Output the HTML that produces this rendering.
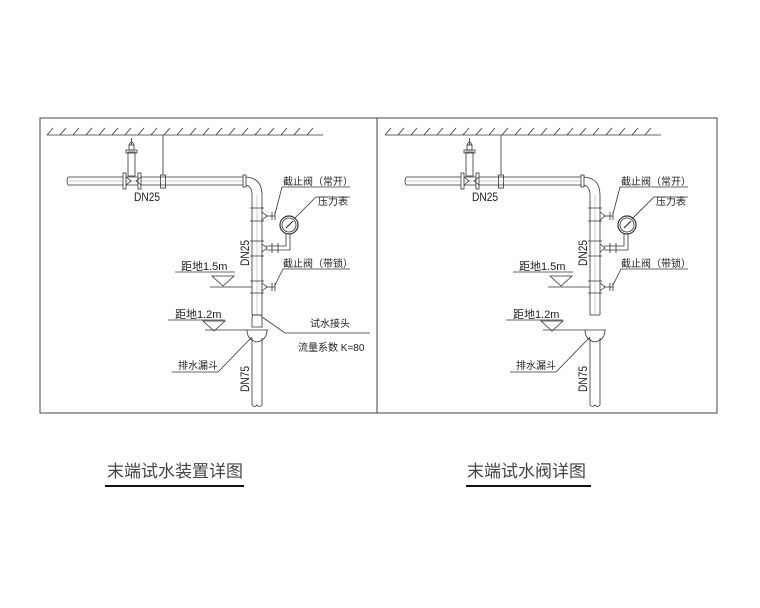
<!DOCTYPE html>
<html><head><meta charset="utf-8"><style>
html,body{margin:0;padding:0;background:#fff;}
svg{display:block;}
text{font-family:"Liberation Sans","Noto Sans CJK SC",sans-serif;fill:#222;}
</style></head><body>
<svg width="760" height="608" viewBox="0 0 760 608" xmlns="http://www.w3.org/2000/svg">
<defs>
<g id="panel" stroke="#333" stroke-width="0.8" fill="none">
  <line x1="47" y1="135" x2="323" y2="135"/>
  <path d="M47 135l6-7M60 135l6-7M73 135l6-7M86 135l6-7M99 135l6-7M112 135l6-7M125 135l6-7M138 135l6-7M151 135l6-7M164 135l6-7M177 135l6-7M190 135l6-7M203 135l6-7M216 135l6-7M229 135l6-7M242 135l6-7M255 135l6-7M268 135l6-7M281 135l6-7M294 135l6-7M307 135l6-7"/>
  <line x1="163" y1="135" x2="163" y2="175"/>
  <rect x="160.5" y="175" width="5" height="13" fill="#fff"/>
  <line x1="68" y1="177" x2="244" y2="177"/>
  <line x1="68" y1="185" x2="244" y2="185"/>
  <line x1="68" y1="181" x2="244" y2="181" stroke="#999" stroke-width="0.5"/>
  <path d="M68 177q-2 4 0 8"/>
  <path d="M244 177q18 0 18 18M244 185q8 0 8 10"/>
  <rect x="243" y="175" width="3" height="12" fill="#fff"/>
  <rect x="123" y="173" width="3" height="16" fill="#fff"/>
  <rect x="138" y="173" width="3" height="16" fill="#fff"/>
  <path d="M126 177l5 4 l-5 4M141 177l-5 4 l5 4"/>
  <rect x="128" y="152" width="7" height="24"/>
  <rect x="126" y="150" width="11" height="3"/>
  <rect x="129" y="145" width="5" height="5"/>
  <path d="M129 145q2.5-6 5 0"/>
  <line x1="131.5" y1="138" x2="131.5" y2="145"/>
  <line x1="252" y1="195" x2="252" y2="315"/>
  <line x1="262" y1="195" x2="262" y2="315"/>
  <line x1="257" y1="195" x2="257" y2="315" stroke="#999" stroke-width="0.5"/>
  <line x1="252" y1="315" x2="262" y2="315"/>
  <path d="M250 208h14M250 221h14M250 241h14M250 256h14M250 281h14M250 293h14"/>
  <path d="M262 212l5 4-5 4"/>
  <line x1="266" y1="216" x2="275" y2="216"/>
  <line x1="272" y1="212" x2="272" y2="220"/>
  <line x1="275" y1="212" x2="275" y2="220"/>
  <path d="M262 244l5 4-5 4"/>
  <path d="M266 246h20v-12M266 250h24v-16"/>
  <line x1="272" y1="243" x2="272" y2="253"/>
  <line x1="278" y1="243" x2="278" y2="253"/>
  <circle cx="289" cy="225" r="9" fill="#fff" stroke-width="1.2"/>
  <circle cx="289" cy="225" r="7"/>
  <line x1="286" y1="228" x2="293" y2="221" stroke-width="1.2"/>
  <path d="M262 283l5 4-5 4"/>
  <line x1="266" y1="287" x2="275" y2="287"/>
  <line x1="272" y1="283" x2="272" y2="291"/>
  <line x1="275" y1="283" x2="275" y2="291"/>
  <path d="M275 214l7-27h68"/>
  <path d="M294 219l22-22h34"/>
  <path d="M275 285l8-16h67"/>
  <line x1="175" y1="272" x2="235" y2="272"/>
  <path d="M212 276h22l-11 10z"/>
  <line x1="210" y1="287" x2="252" y2="287"/>
  <line x1="168" y1="320" x2="225" y2="320"/>
  <path d="M203 321h22l-11 10z"/>
  <line x1="205" y1="330" x2="268" y2="330"/>
  <path d="M247 330q0 10 10 12q10-2 10-12"/>
  <line x1="252" y1="338" x2="252" y2="405"/>
  <line x1="262" y1="338" x2="262" y2="405"/>
  <path d="M252 405q2.5 3 5 0q2.5 3 5 0"/>
  <path d="M252 337l-34 35h-46"/>
</g>
</defs>
<rect x="40" y="118" width="677" height="295" fill="none" stroke="#444" stroke-width="1"/>
<line x1="377" y1="118" x2="377" y2="413" stroke="#444" stroke-width="1"/>
<use href="#panel"/>
<use href="#panel" transform="translate(338,0)"/>
<g stroke="#333" stroke-width="0.8" fill="none">
  <path d="M253 315h8l1 2v10h-10v-10z"/>
  <path d="M262 317l23 16h85"/>
</g>
<g font-size="10">
  <text transform="translate(134,201) scale(0.85,1)" font-size="12">DN25</text>
  <text transform="translate(472,201) scale(0.85,1)" font-size="12">DN25</text>
  <text x="283" y="185">截止阀（常开）</text>
  <text x="621" y="185">截止阀（常开）</text>
  <text x="318" y="205">压力表</text>
  <text x="656" y="205">压力表</text>
  <text x="283" y="267">截止阀（带锁）</text>
  <text x="621" y="267">截止阀（带锁）</text>
  <text x="181" y="270" font-size="11">距地1.5m</text>
  <text x="519" y="270" font-size="11">距地1.5m</text>
  <text x="175" y="318" font-size="11">距地1.2m</text>
  <text x="513" y="318" font-size="11">距地1.2m</text>
  <text x="178" y="369">排水漏斗</text>
  <text x="516" y="369">排水漏斗</text>
  <text x="310" y="327">试水接头</text>
  <text x="298" y="351">流量系数 K=80</text>
  <text transform="translate(249,266) rotate(-90) scale(0.85,1)" font-size="12">DN25</text>
  <text transform="translate(587,266) rotate(-90) scale(0.85,1)" font-size="12">DN25</text>
  <text transform="translate(249,392) rotate(-90) scale(0.85,1)" font-size="12">DN75</text>
  <text transform="translate(587,392) rotate(-90) scale(0.85,1)" font-size="12">DN75</text>
</g>
<text x="107" y="477" font-size="17" style="fill:#444">末端试水装置详图</text>
<line x1="105" y1="486" x2="244" y2="486" stroke="#111" stroke-width="2"/>
<text x="467" y="477" font-size="17" style="fill:#444">末端试水阀详图</text>
<line x1="466" y1="486" x2="591" y2="486" stroke="#111" stroke-width="2"/>
</svg>
</body></html>
